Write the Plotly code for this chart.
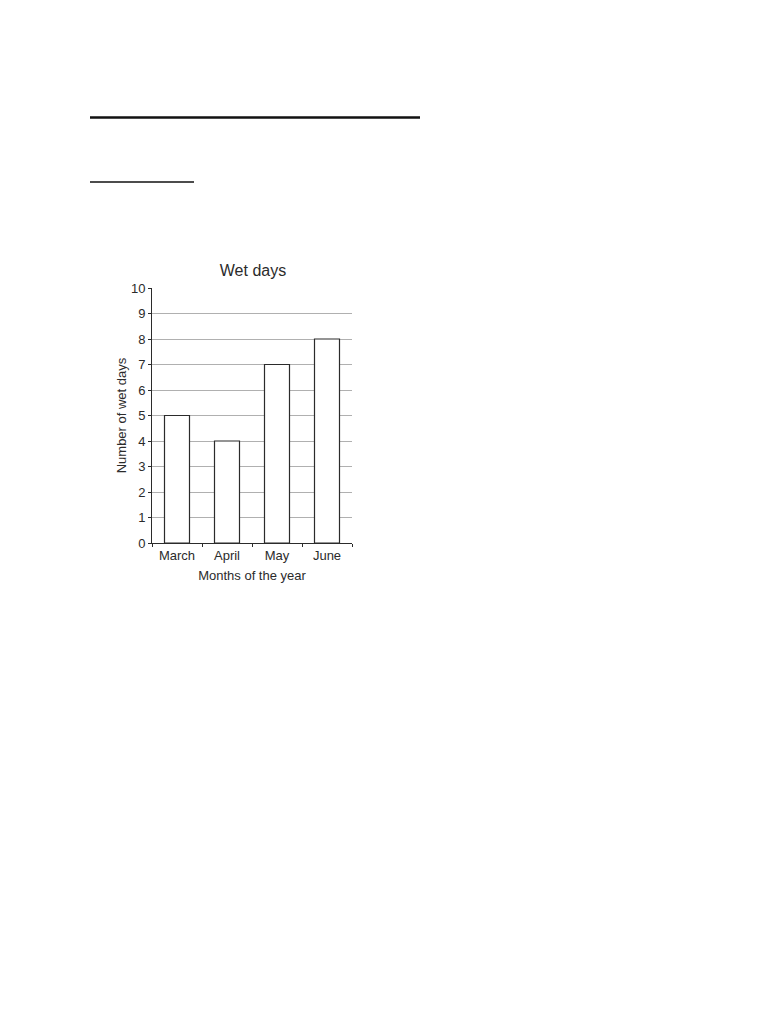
import plotly.graph_objects as go

# data
months = ["March", "April", "May", "June"]
wet_days = [5, 4, 7, 8]
y_ticks = list(range(0, 11))

W, H = 768, 1024
OFF = 8  # page body margin of the html
# plot area in pixels, as seen on the page
L, R, T, B = 152, 352, 288, 543

_FONT = "Liberation Sans, Arial, sans-serif"
_INK = "#2b2b2b"


def _px(x, y):
    """page pixel -> paper coords"""
    return (x - L) / (R - L), (B - y) / (B - T)


fig = go.Figure()
fig.add_trace(go.Bar(
    x=months, y=wet_days,
    marker=dict(color="white", line=dict(color=_INK, width=1.2)),
    width=0.5,
))

# page rules above the chart
for (x0, x1, y, w) in [(90, 420, 117.5, 2.6), (90, 194, 182, 1.6)]:
    px0, py = _px(x0, y)
    px1, _ = _px(x1, y)
    fig.add_shape(type="line", xref="paper", yref="paper",
                  x0=px0, x1=px1, y0=py, y1=py,
                  line=dict(color="#111", width=w))

fig.update_layout(
    width=W, height=H,
    margin=dict(l=L - OFF, r=W - R + OFF, t=T - OFF, b=H - B + OFF, pad=0),
    paper_bgcolor="white", plot_bgcolor="white",
    font=dict(family=_FONT, color=_INK, size=13),
    showlegend=False,
    title=dict(text="Wet days", x=(253 - OFF) / W, xref="container",
               xanchor="center",
               y=1 - (270 - OFF) / H, yref="container", yanchor="middle",
               font=dict(size=16, color=_INK)),
)
fig.update_xaxes(
    showline=True, linecolor=_INK, linewidth=1,
    ticks="outside", tickson="boundaries", ticklen=3, tickcolor=_INK,
    showgrid=False,
    title=dict(text="Months of the year", standoff=9, font=dict(size=13)),
    tickfont=dict(size=13),
)
fig.update_yaxes(
    range=[0, 10], tickvals=y_ticks,
    showline=True, linecolor=_INK, linewidth=1,
    ticks="outside", ticklen=3, tickcolor=_INK,
    showgrid=True, gridcolor="#b0b0b0", gridwidth=1,
    zeroline=False,
    title=dict(text="Number of wet days", standoff=1, font=dict(size=13)),
    tickfont=dict(size=13),
)

fig.write_html("out.html")
